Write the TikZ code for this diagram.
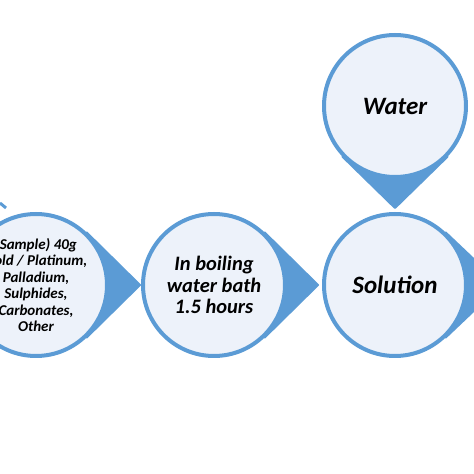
\documentclass[tikz,border=0pt]{standalone}
\usepackage{fontspec}
\setmainfont{Carlito}
\usetikzlibrary{positioning,backgrounds,calc}
\definecolor{stepblue}{HTML}{5B9BD5}
\definecolor{steplight}{HTML}{EDF2FA}
\begin{document}
\begin{tikzpicture}[x=1pt, y=1pt,
    bubble/.style={circle, draw=stepblue, fill=steplight, line width=4pt,
      minimum size=142pt, inner sep=0pt, align=center, font=\bfseries\itshape},
    pointer/.style={fill=stepblue, draw=stepblue, line width=2pt, line join=round}]
  \useasboundingbox (0,0) rectangle (474,474);
  \clip (0,0) rectangle (474,474);
  \node[bubble, font=\fontsize{15}{16.5}\selectfont\bfseries\itshape] (sample) at (36,189)
    {(Sample) 40g\\Gold / Platinum,\\Palladium,\\Sulphides,\\Carbonates,\\Other};
  \node[bubble, font=\fontsize{20.5}{21.5}\selectfont\bfseries\itshape, right=32pt of sample] (bath)
    {In boiling\\water bath\\1.5 hours};
  \node[bubble, font=\fontsize{25}{26}\selectfont\bfseries\itshape, right=35pt of bath] (solution) {Solution};
  \node[bubble, font=\fontsize{25}{26}\selectfont\bfseries\itshape, above=33pt of solution] (water) {Water};
  \coordinate (tip1) at ($(sample)+(104,0)$);
  \coordinate (tip2) at ($(bath)+(104,0)$);
  \coordinate (tip3) at ($(solution)+(106,0)$);
  \coordinate (tip4) at ($(water)+(0,-102)$);
  \begin{scope}[on background layer]
    \fill[pointer] (sample.46) -- (tip1) -- (sample.-46) -- cycle;
    \fill[pointer] (bath.46) -- (tip2) -- (bath.-46) -- cycle;
    \fill[pointer] (solution.46) -- (tip3) -- (solution.-46) -- cycle;
    \fill[pointer] (water.-44) -- (tip4) -- (water.-136) -- cycle;
  \end{scope}
  % part of a pointer cut off at the left
  \coordinate (edge) at (0,271);
  \draw[stepblue, line width=3pt] (edge) -- ++(6,-5);
\end{tikzpicture}
\end{document}
